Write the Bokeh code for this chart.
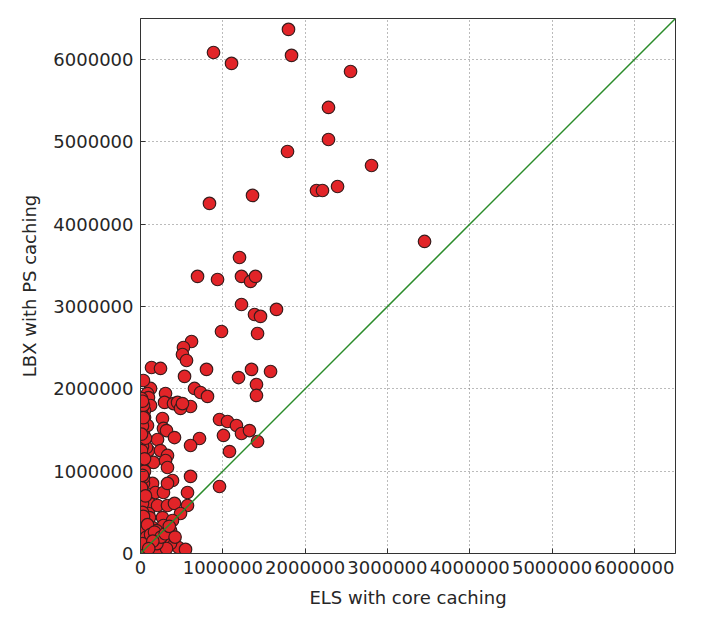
from bokeh.plotting import figure
from bokeh.models import FixedTicker, ColumnDataSource
from bokeh.embed import file_html
from bokeh.resources import INLINE

# values in thousands
els_k = [1798, 1835, 887, 1106, 2552, 2284, 2284, 2807, 1786, 2138, 2211, 2394, 1361, 838, 3451,
         1203, 693, 936, 1227, 1337, 1397, 1227, 1652, 1385, 1458, 984, 1422, 620, 522, 510, 559,
         802, 535, 1191, 1349, 1580, 1409, 1409, 656, 729, 814, 608, 960, 1057, 1166, 1227, 1324,
         1008, 1422, 717, 608, 1081, 608, 960, 134, 243, 304, 292, 401, 450, 486, 122, 85, 97, 122,
         267, 279, 316, 413, 49, 49, 49, 36, 36, 207, 97, 243, 328, 61, 158, 304, 328, 389, 571, 146,
         182, 279, 109, 207, 328, 413, 571, 486, 267, 389, 97, 36, 49, 146, 267, 365, 182, 279, 61,
         122, 243, 462, 547, 36, 365, 24, 36, 36, 36,
         24, 24, 73, 12, 36, 12, 85, 328, 109, 61, 279, 194, 61, 279, 12, 73, 146, 219, 316, 510,
         24, 12, 36, 24, 61, 12, 49, 12, 61, 24, 12, 73, 24,
         12, 36, 85, 122, 170, 200, 250, 300, 350, 420, 150, 100,
         12, 36, 24, 12, 49, 24]
lbx_k = [6367, 6051, 6087, 5954, 5856, 5419, 5030, 4714, 4884, 4410, 4410, 4459, 4350, 4253, 3791,
         3596, 3366, 3329, 3366, 3305, 3366, 3025, 2965, 2904, 2880, 2697, 2673, 2576, 2503, 2418, 2345,
         2236, 2151, 2138, 2236, 2211, 2053, 1920, 2005, 1956, 1908, 1786, 1628, 1604, 1555, 1458, 1494,
         1434, 1361, 1397, 1312, 1239, 936, 814, 2260, 2248, 1944, 1835, 1822, 1835, 1762, 2005, 1944, 1895, 1798,
         1640, 1519, 1494, 1409, 1737, 1652, 1531, 1458, 1373, 1385, 1251, 1251, 1191, 1069, 1106, 1130, 1045, 887, 741, 851,
         741, 741, 608, 583, 583, 608, 583, 486, 437, 401, 486, 377, 279, 316, 279, 279, 194, 158, 158,
         97, 73, 73, 49, 61, 122, 608, 729, 851, 923,
         1191, 1008, 1288, 1883, 2102, 1616, 1555, 851, 437, 365, 340, 279, 243, 182, 24, 36, 49, 24, 61, 1822,
         1300, 1700, 1800, 1550, 1400, 1100, 1000, 800, 700, 500, 300, 200, 120,
         400, 450, 350, 230, 260, 120, 200, 240, 330, 200, 150, 60,
         1450, 1650, 1850, 1250, 1150, 950]
axis_max = 6500000
tick_values = [0, 1000000, 2000000, 3000000, 4000000, 5000000, 6000000]
tick_labels = ["0", "1000000", "2000000", "3000000", "4000000", "5000000", "6000000"]
diag = [0, 6500000]

src = ColumnDataSource(dict(x=[v * 1000 for v in els_k], y=[v * 1000 for v in lbx_k]))

p = figure(frame_width=535, frame_height=535, x_range=(0, axis_max), y_range=(0, axis_max),
           output_backend="svg", toolbar_location=None,
           min_border_left=140, min_border_right=30, min_border_top=18, min_border_bottom=60)

p.scatter("x", "y", source=src, size=12.5, fill_color="#e22428", line_color="#3a1c1c", line_width=1.2)
p.line(diag, diag, line_color="#2a8c2a", line_width=1.5)

font = "DejaVu Sans"
for ax in (p.xaxis[0], p.yaxis[0]):
    ax.ticker = FixedTicker(ticks=tick_values)
    ax.major_label_overrides = {t: l for t, l in zip(tick_values, tick_labels)}
    ax.major_label_text_font = font
    ax.major_label_text_font_size = "18px"
    ax.major_label_text_color = "#262626"
    ax.axis_label_text_font = font
    ax.axis_label_text_font_size = "18px"
    ax.axis_label_text_font_style = "normal"
    ax.axis_label_text_color = "#262626"
    ax.major_tick_in = 5
    ax.major_tick_out = 0
    ax.minor_tick_line_color = None
    ax.major_tick_line_color = "#333333"
    ax.axis_line_color = "#333333"
    ax.major_label_standoff = 7
    ax.axis_label_standoff = 10

p.xaxis.axis_label = "ELS with core caching"
p.yaxis.axis_label = "LBX with PS caching"
p.yaxis.major_label_orientation = "horizontal"

p.outline_line_color = "#333333"
p.outline_line_width = 1
p.grid.grid_line_color = "#777777"
p.grid.grid_line_dash = "1 3"
p.grid.grid_line_width = 1
p.background_fill_color = "white"
p.border_fill_color = "white"

open("out.html", "w").write(file_html(p, INLINE))
